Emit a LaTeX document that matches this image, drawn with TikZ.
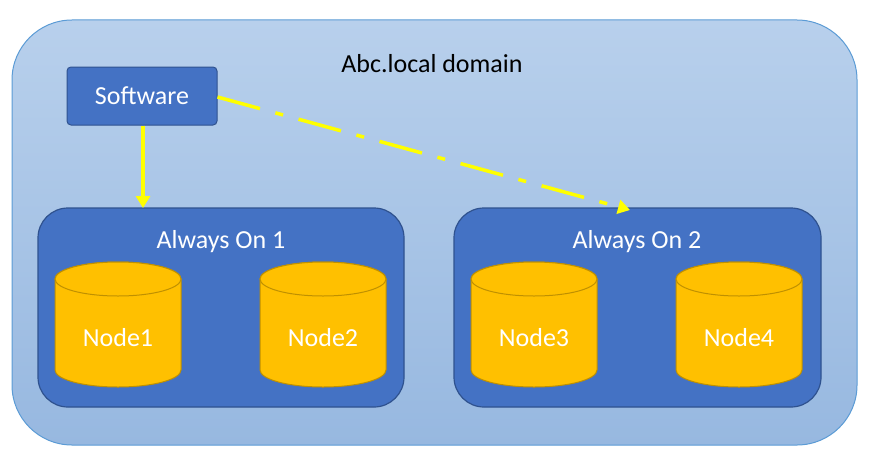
\documentclass[tikz,border=0pt]{standalone}
\usepackage{fontspec}
\setmainfont{Carlito}
\usetikzlibrary{arrows.meta}
\definecolor{bluebox}{HTML}{4472C4}
\definecolor{blueedge}{HTML}{2F528F}
\definecolor{gold}{HTML}{FFC000}
\definecolor{goldedge}{HTML}{BF9000}
\definecolor{outtop}{HTML}{B8D0EC}
\definecolor{outbot}{HTML}{97B8E0}
\definecolor{outedge}{HTML}{5B9BD5}
\definecolor{ylw}{HTML}{FFFF00}
\begin{document}
\begin{tikzpicture}[x=1pt,y=-1pt,
  grp/.style={draw=blueedge,fill=bluebox,line width=1.2pt,rounded corners=30pt},
  lbl/.style={text=white,font=\fontsize{26}{30}\selectfont},
  arr/.style={draw=ylw,line width=3.5pt,-{Triangle[length=12pt,width=14pt]}}]
\useasboundingbox (0,0) rectangle (874,460);
\shade[top color=outtop,bottom color=outbot,draw=outedge,line width=1pt,rounded corners=60pt] (12,20) rectangle (857,445);
\node[font=\fontsize{26}{30}\selectfont] (dom) at (432,64) {Abc.local domain};
\node[draw=blueedge,fill=bluebox,line width=1pt,rounded corners=4pt,minimum width=150pt,minimum height=58pt,lbl] (sw) at (142,96) {Software};
\draw[grp] (38,208) rectangle (404,407);
\draw[grp] (454,208) rectangle (821,407);
\node[lbl] (ao1) at (221,242) {Always On 1};
\node[lbl] (ao2) at (637,242) {Always On 2};
\foreach \x/\n in {55/1,260/2,471/3,676/4}{
  \draw[fill=gold,draw=goldedge,line width=1pt]
    (\x,279) -- (\x,370) arc[start angle=180,end angle=0,x radius=63,y radius=17]
    -- (\x+126,279) arc[start angle=0,end angle=-180,x radius=63,y radius=17] -- cycle;
  \draw[fill=gold,draw=goldedge,line width=1pt] (\x+63,279) ellipse[x radius=63,y radius=17];
  \node[lbl] (n\n) at (\x+63,338) {Node\n};
}
\coordinate (a1) at (143,208);
\coordinate (a2) at (630,210);
\draw[arr] (sw.south) ++(1,0) -- (a1);
\draw[arr,dash pattern=on 44pt off 16pt on 8pt off 16pt] (sw.east) ++(0,1) -- (a2);
\end{tikzpicture}
\end{document}
